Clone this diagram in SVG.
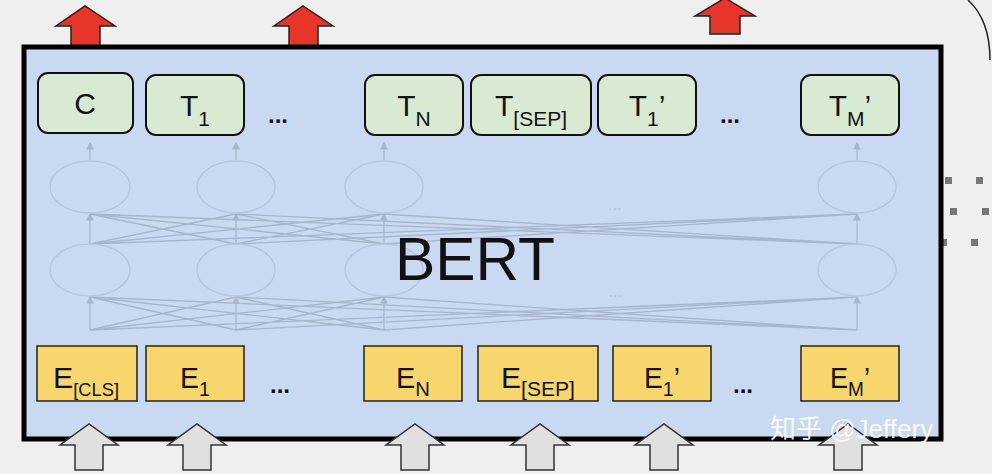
<svg xmlns="http://www.w3.org/2000/svg" width="992" height="474" viewBox="0 0 992 474">
<style>
.t{font-family:"Liberation Sans",Arial,sans-serif;fill:#111}
.tb{fill:#d9ead3;stroke:#111;stroke-width:2}
.eb{fill:#f8d66e;stroke:#222;stroke-width:1.5}
.el{fill:none;stroke:#b8c6dc;stroke-width:1.5}
.ln{stroke:#a8b6cc;stroke-width:1.3;fill:none}
.ra{fill:#e8352a;stroke:#222;stroke-width:1.5}
.ga{fill:#e0e0e0;stroke:#333;stroke-width:1.5}
.sq{fill:#777}
</style>
<defs>
<marker id="ah" markerWidth="6" markerHeight="6" refX="5" refY="3" orient="auto"><path d="M0,0 L6,3 L0,6z" fill="#a8b6cc"/></marker>
</defs>
<rect width="992" height="474" fill="#efefef"/>
<path d="M968,0 Q990,20 990,60" fill="none" stroke="#222" stroke-width="1.5"/>
<g id="squares">
<rect class="sq" x="945" y="177" width="7" height="7"/><rect class="sq" x="976" y="177" width="7" height="7"/>
<rect class="sq" x="950" y="208" width="7" height="7"/><rect class="sq" x="982" y="208" width="7" height="7"/>
<rect class="sq" x="940" y="239" width="7" height="7"/><rect class="sq" x="971" y="239" width="7" height="7"/>
</g>
<g id="red-arrows">
<path class="ra" d="M71,46 V26 H56 L85,6 L115,26 H100 V46z"/>
<path class="ra" d="M289,46 V26 H274 L303,6 L333,26 H318 V46z"/>
<path class="ra" d="M710,34 V16 H695 L725,-2 L755,16 H740 V34z"/>
</g>
<g id="bert">
<rect x="24" y="47" width="917" height="392" fill="#c9d9f2" stroke="#000" stroke-width="5"/>
</g>
<g id="connectors">
<g class="ln">
<path d="M90,160 V143" marker-end="url(#ah)"/><path d="M236,160 V143" marker-end="url(#ah)"/><path d="M384,160 V143" marker-end="url(#ah)"/><path d="M857,160 V143" marker-end="url(#ah)"/>
<path d="M90,244 V214" marker-end="url(#ah)"/><path d="M236,244 V214" marker-end="url(#ah)"/><path d="M384,244 V214" marker-end="url(#ah)"/><path d="M857,244 V214" marker-end="url(#ah)"/>
<path d="M90,244 L236,214 M90,244 L384,214 M90,244 L857,214 M236,244 L90,214 M236,244 L384,214 M236,244 L857,214 M384,244 L90,214 M384,244 L236,214 M384,244 L857,214 M857,244 L90,214 M857,244 L236,214 M857,244 L384,214"/>
<path d="M90,330 V297" marker-end="url(#ah)"/><path d="M236,330 V297" marker-end="url(#ah)"/><path d="M384,330 V297" marker-end="url(#ah)"/><path d="M857,330 V297" marker-end="url(#ah)"/>
<path d="M90,330 L236,297 M90,330 L384,297 M90,330 L857,297 M236,330 L90,297 M236,330 L384,297 M236,330 L857,297 M384,330 L90,297 M384,330 L236,297 M384,330 L857,297 M857,330 L90,297 M857,330 L236,297 M857,330 L384,297"/>
</g>
</g>
<g id="nodes-hidden">
<ellipse class="el" cx="90" cy="187" rx="40" ry="26"/><ellipse class="el" cx="236" cy="187" rx="39" ry="26"/><ellipse class="el" cx="384" cy="187" rx="39" ry="26"/><ellipse class="el" cx="857" cy="187" rx="39" ry="26"/>
<ellipse class="el" cx="90" cy="270" rx="40" ry="26"/><ellipse class="el" cx="236" cy="270" rx="39" ry="26"/><ellipse class="el" cx="384" cy="270" rx="39" ry="26"/><ellipse class="el" cx="857" cy="270" rx="39" ry="26"/>
<text x="615" y="210" font-family="Liberation Sans,sans-serif" font-size="16" fill="#b8c6dc" text-anchor="middle">...</text>
<text x="615" y="297" font-family="Liberation Sans,sans-serif" font-size="16" fill="#b8c6dc" text-anchor="middle">...</text>
</g>
<text class="t" x="475" y="280" font-size="62" text-anchor="middle" textLength="160" lengthAdjust="spacingAndGlyphs">BERT</text>
<g id="T-C"><rect class="tb" x="38" y="73" width="95" height="60" rx="10"/><text class="t" x="85" y="114" font-size="30" text-anchor="middle">C</text></g>
<g id="T-1"><rect class="tb" x="146" y="75" width="98" height="60" rx="10"/><text class="t" x="195" y="116" font-size="30" text-anchor="middle">T<tspan font-size="21" dy="10">1</tspan></text></g>
<text class="t" x="278" y="123" font-size="24" font-weight="bold" text-anchor="middle">...</text>
<g id="T-N"><rect class="tb" x="365" y="75" width="98" height="60" rx="10"/><text class="t" x="414" y="116" font-size="30" text-anchor="middle">T<tspan font-size="21" dy="10">N</tspan></text></g>
<g id="T-SEP"><rect class="tb" x="471" y="75" width="120" height="60" rx="10"/><text class="t" x="531" y="116" font-size="30" text-anchor="middle">T<tspan font-size="21" dy="10">[SEP]</tspan></text></g>
<g id="T-1p"><rect class="tb" x="598" y="75" width="98" height="60" rx="10"/><text class="t" x="647" y="116" font-size="30" text-anchor="middle">T<tspan font-size="21" dy="10">1</tspan><tspan dy="-10">’</tspan></text></g>
<text class="t" x="730" y="123" font-size="24" font-weight="bold" text-anchor="middle">...</text>
<g id="T-Mp"><rect class="tb" x="801" y="75" width="98" height="60" rx="10"/><text class="t" x="850" y="116" font-size="30" text-anchor="middle">T<tspan font-size="21" dy="10">M</tspan><tspan dy="-10">’</tspan></text></g>
<g id="E-CLS"><rect class="eb" x="37" y="346" width="100" height="55"/><text class="t" x="86" y="388" font-size="30" text-anchor="middle" textLength="66" lengthAdjust="spacingAndGlyphs">E<tspan font-size="18" dy="8">[CLS]</tspan></text></g>
<g id="E-1"><rect class="eb" x="146" y="346" width="98" height="55"/><text class="t" x="195" y="388" font-size="30" text-anchor="middle" textLength="30" lengthAdjust="spacingAndGlyphs">E<tspan font-size="21" dy="8">1</tspan></text></g>
<text class="t" x="280" y="393" font-size="24" font-weight="bold" text-anchor="middle">...</text>
<g id="E-N"><rect class="eb" x="364" y="346" width="98" height="55"/><text class="t" x="413" y="388" font-size="30" text-anchor="middle" textLength="34" lengthAdjust="spacingAndGlyphs">E<tspan font-size="21" dy="8">N</tspan></text></g>
<g id="E-SEP"><rect class="eb" x="478" y="346" width="120" height="55"/><text class="t" x="538" y="388" font-size="30" text-anchor="middle" textLength="74" lengthAdjust="spacingAndGlyphs">E<tspan font-size="21" dy="8">[SEP]</tspan></text></g>
<g id="E-1p"><rect class="eb" x="613" y="346" width="98" height="55"/><text class="t" x="662" y="388" font-size="30" text-anchor="middle" textLength="36" lengthAdjust="spacingAndGlyphs">E<tspan font-size="21" dy="8">1</tspan><tspan dy="-8">’</tspan></text></g>
<text class="t" x="743" y="393" font-size="24" font-weight="bold" text-anchor="middle">...</text>
<g id="E-Mp"><rect class="eb" x="801" y="346" width="98" height="55"/><text class="t" x="850" y="388" font-size="30" text-anchor="middle" textLength="40" lengthAdjust="spacingAndGlyphs">E<tspan font-size="21" dy="8">M</tspan><tspan dy="-8">’</tspan></text></g>
<g id="grey-arrows">
<path class="ga" d="M75,470 V445 H60 L89,424 L118,445 H103 V470z"/>
<path class="ga" d="M183,470 V445 H168 L197,424 L226,445 H211 V470z"/>
<path class="ga" d="M401,470 V445 H386 L415,424 L444,445 H429 V470z"/>
<path class="ga" d="M526,470 V445 H511 L540,424 L569,445 H554 V470z"/>
<path class="ga" d="M650,470 V445 H635 L664,424 L693,445 H678 V470z"/>
<path class="ga" d="M834,470 V445 H819 L848,424 L877,445 H862 V470z"/>
</g>
<text x="770" y="438" font-family="Liberation Sans,'Noto Sans CJK SC',sans-serif" font-size="26" fill="#ffffff" fill-opacity="0.9">知乎 @Jeffery</text>
</svg>
